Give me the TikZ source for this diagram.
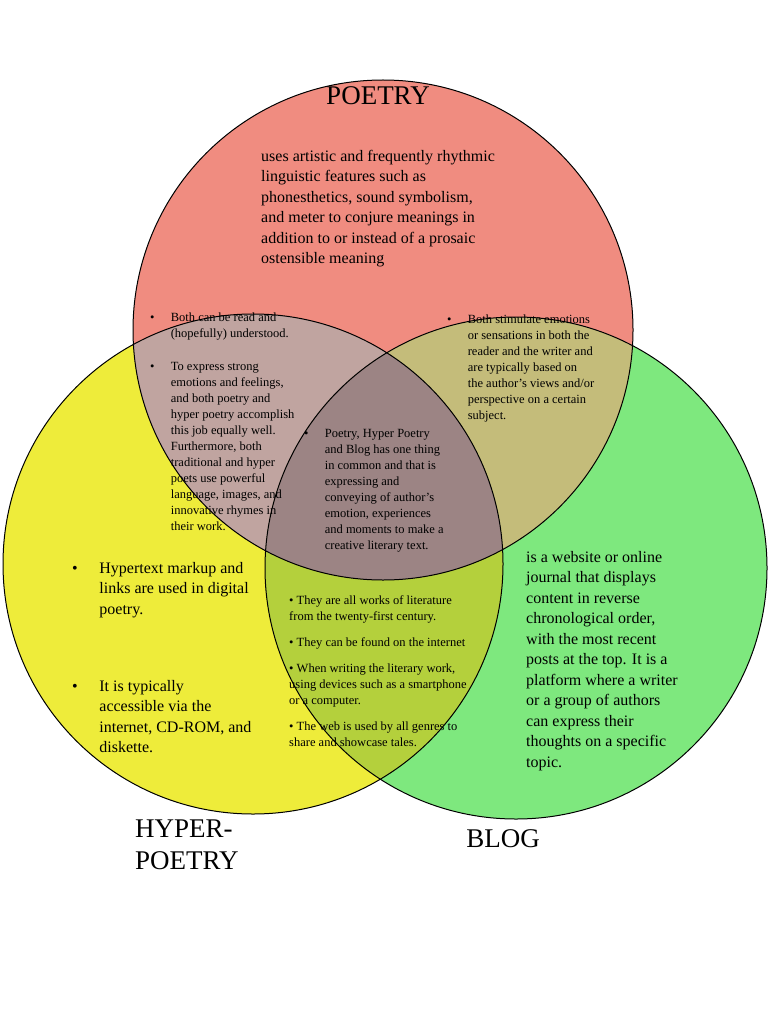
\documentclass[tikz,border=0pt]{standalone}
\usepackage{fontspec}
\setmainfont{Liberation Serif}
\begin{document}
\begin{tikzpicture}[x=1pt,y=-1pt,
  big/.style={font=\fontsize{16}{20.5}\selectfont,align=left,anchor=north west,inner sep=0},
  sm/.style={font=\fontsize{12.5}{16}\selectfont,align=left,anchor=north west,inner sep=0},
  ttl/.style={font=\fontsize{27}{32}\selectfont,align=left,inner sep=0}]
\useasboundingbox (0,0) rectangle (768,1024);
\fill[white] (0,0) rectangle (768,1024);
\def\P{(383,330) circle (250)}
\def\Y{(253,564) circle (250)}
\def\G{(516,568) circle (251)}
\fill[yellow!85!white!95!black, fill={rgb,255:red,238;green,236;blue,58}] \Y;
\fill[fill={rgb,255:red,126;green,232;blue,126}] \G;
\fill[fill={rgb,255:red,240;green,140;blue,128}] \P;
\begin{scope}\clip \Y; \fill[fill={rgb,255:red,192;green,164;blue,160}] \P; \end{scope}
\begin{scope}\clip \G; \fill[fill={rgb,255:red,196;green,188;blue,122}] \P; \end{scope}
\begin{scope}\clip \G; \fill[fill={rgb,255:red,180;green,208;blue,60}] \Y; \end{scope}
\begin{scope}\clip \G; \clip \Y; \fill[fill={rgb,255:red,156;green,132;blue,132}] \P; \end{scope}
\draw[line width=1pt] \P \Y \G;
\node[ttl] (tp) at (378,96) {POETRY};
\node[ttl,anchor=north west] (th) at (135,820) {HYPER-\\POETRY};
\node[ttl] (tb) at (503,839) {BLOG};
\node[big] (pt) at (261,150) {uses artistic and frequently rhythmic\\linguistic features such as\\phonesthetics, sound symbolism,\\and meter to conjure meanings in\\addition to or instead of a prosaic\\ostensible meaning};
\node[sm] (py1) at (150,313) {\textbullet\hspace{1.3em}\parbox[t]{140pt}{Both can be read and\\(hopefully) understood.}};
\node[sm] (py2) at (150,362) {\textbullet\hspace{1.3em}\parbox[t]{150pt}{To express strong\\emotions and feelings,\\and both poetry and\\hyper poetry accomplish\\this job equally well.\\Furthermore, both\\traditional and hyper\\poets use powerful\\language, images, and\\innovative rhymes in\\their work.}};
\node[sm] (pg) at (447,315) {\textbullet\hspace{1.3em}\parbox[t]{150pt}{Both stimulate emotions\\or sensations in both the\\reader and the writer and\\are typically based on\\the author's views and/or\\perspective on a certain\\subject.}};
\node[sm] (c) at (304,429) {\textbullet\hspace{1.3em}\parbox[t]{150pt}{Poetry, Hyper Poetry\\and Blog has one thing\\in common and that is\\expressing and\\conveying of author's\\emotion, experiences\\and moments to make a\\creative literary text.}};
\node[big] (y1) at (72,562) {\textbullet\hspace{1.35em}\parbox[t]{180pt}{Hypertext markup and\\links are used in digital\\poetry.}};
\node[big] (y2) at (72,680) {\textbullet\hspace{1.35em}\parbox[t]{180pt}{It is typically\\accessible via the\\internet, CD-ROM, and\\diskette.}};
\node[sm] (yg) at (289,595) {\textbullet\ They are all works of literature\\from the twenty-first century.\\[10pt]\textbullet\ They can be found on the internet\\[10pt]\textbullet\ When writing the literary work,\\using devices such as a smartphone\\or a computer.\\[10pt]\textbullet\ The web is used by all genres to\\share and showcase tales.};
\node[big] (g) at (526,551) {is a website or online\\journal that displays\\content in reverse\\chronological order,\\with the most recent\\posts at the top. It is a\\platform where a writer\\or a group of authors\\can express their\\thoughts on a specific\\topic.};
\end{tikzpicture}
\end{document}
